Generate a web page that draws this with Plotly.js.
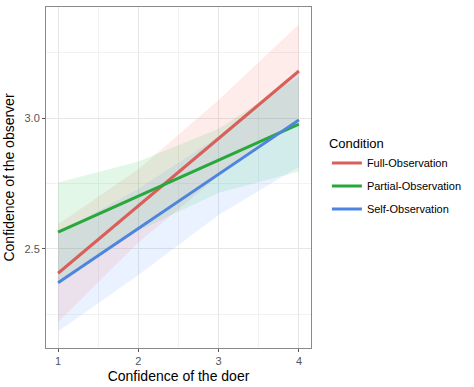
<!DOCTYPE html>
<html>
<head>
<meta charset="utf-8">
<script src="https://cdn.plot.ly/plotly-3.0.1.min.js"></script>
<style>html,body{margin:0;padding:0;background:#fff;}#chart{width:474px;height:387px;}</style>
</head>
<body>
<div id="chart"></div>
<script>
const conditions = ["Full-Observation", "Partial-Observation", "Self-Observation"];
const doer = [1, 2, 3, 4];
const fullFit = [2.407, 2.665, 2.923, 3.181];
const fullLow = [2.22, 2.525, 2.78, 3.0];
const fullHigh = [2.595, 2.805, 3.07, 3.36];
const partialFit = [2.564, 2.702, 2.840, 2.978];
const partialLow = [2.375, 2.57, 2.715, 2.796];
const partialHigh = [2.754, 2.835, 2.96, 3.16];
const selfFit = [2.371, 2.579, 2.786, 2.994];
const selfLow = [2.184, 2.40, 2.63, 2.815];
const selfHigh = [2.56, 2.73, 2.93, 3.175];

const lineColors = ["#D9605A", "#28A83A", "#4D84DF"];
const fillColors = ["rgba(248,118,109,0.14)", "rgba(0,186,56,0.11)", "rgba(97,156,255,0.13)"];
const fits = [fullFit, partialFit, selfFit];
const lows = [fullLow, partialLow, selfLow];
const highs = [fullHigh, partialHigh, selfHigh];

const traces = [];
for (let i = 0; i < 3; i++) {
  traces.push({
    x: doer.concat(doer.slice().reverse()),
    y: highs[i].concat(lows[i].slice().reverse()),
    type: "scatter", mode: "lines", fill: "toself",
    fillcolor: fillColors[i], line: {width: 0, color: "rgba(0,0,0,0)"},
    showlegend: false, hoverinfo: "skip", legendgroup: "g" + i
  });
}
for (let i = 0; i < 3; i++) {
  traces.push({
    x: doer, y: fits[i], type: "scatter", mode: "lines",
    name: conditions[i], legendgroup: "g" + i,
    line: {color: lineColors[i], width: 3}
  });
}

const layout = {
  width: 474, height: 387,
  margin: {l: 46, r: 153, t: 7, b: 39},
  paper_bgcolor: "#fff", plot_bgcolor: "#fff",
  font: {family: "Liberation Sans, Arial, sans-serif", color: "#000"},
  xaxis: {
    range: [0.85, 4.15], tickvals: [1, 2, 3, 4], ticktext: ["1", "2", "3", "4"],
    showgrid: true, gridcolor: "#e6e6e6", gridwidth: 1,
    minor: {tickvals: [1.5, 2.5, 3.5], showgrid: true, gridcolor: "#f2f2f2", gridwidth: 1},
    ticks: "outside", ticklen: 3, tickcolor: "#555",
    tickfont: {size: 11, color: "#555"},
    showline: true, mirror: true, linecolor: "#8a8a8a", linewidth: 1,
    zeroline: false,
    title: {text: "Confidence of the doer", font: {size: 14, color: "#000"}, standoff: 4}
  },
  yaxis: {
    range: [2.121, 3.426], tickvals: [2.5, 3.0], ticktext: ["2.5", "3.0"],
    showgrid: true, gridcolor: "#e6e6e6", gridwidth: 1,
    minor: {tickvals: [2.25, 2.75, 3.25], showgrid: true, gridcolor: "#f2f2f2", gridwidth: 1},
    ticks: "outside", ticklen: 3, tickcolor: "#555",
    tickfont: {size: 11, color: "#555"},
    showline: true, mirror: true, linecolor: "#8a8a8a", linewidth: 1,
    zeroline: false,
    title: {text: "Confidence of the observer", font: {size: 14, color: "#000"}, standoff: 6}
  },
  legend: {
    x: 1.06, xanchor: "left", y: 0.5, yanchor: "middle",
    title: {text: "Condition", font: {size: 13, color: "#000"}},
    font: {size: 11, color: "#000"},
    bgcolor: "rgba(0,0,0,0)", itemwidth: 30, tracegroupgap: 4
  },
  showlegend: true
};

Plotly.newPlot("chart", traces, layout, {displayModeBar: false, staticPlot: true});
</script>
</body>
</html>
